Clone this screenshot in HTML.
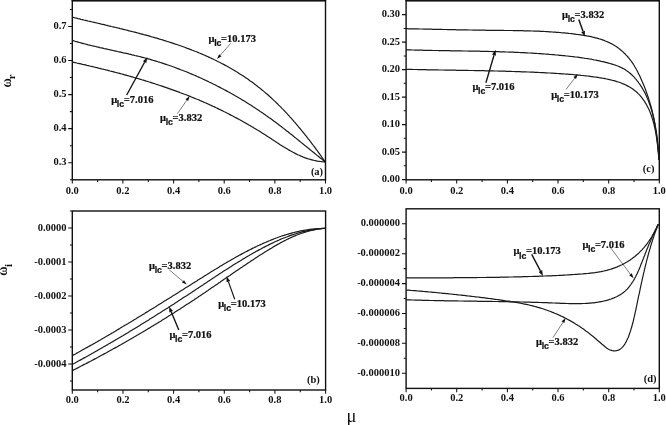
<!DOCTYPE html>
<html><head><meta charset="utf-8"><title>Figure</title>
<style>
html,body{margin:0;padding:0;background:#fff;}
body{width:666px;height:425px;overflow:hidden;}
svg{display:block;}
text{font-family:"Liberation Serif", "DejaVu Serif", serif;font-weight:bold;fill:#111;}
.tl{font-size:10.5px;}
.lb{font-size:10.5px;stroke:#111;stroke-width:0.22px;}
.sub{font-size:8.8px;font-family:"Liberation Sans","DejaVu Sans",sans-serif;}
.fr{fill:none;stroke:#111;stroke-width:1.4;}
.tk{stroke:#111;stroke-width:1.05;fill:none;}
.cv{fill:none;stroke:#1a1a1a;stroke-width:1.2;stroke-linejoin:round;}
</style></head><body>
<svg width="666" height="425" viewBox="0 0 666 425">
<rect width="666" height="425" fill="#fff"/>
<rect class="fr" x="72.3" y="0.7" width="253.2" height="179.1"/>
<rect class="fr" x="406.1" y="0.7" width="253.2" height="179.1"/>
<rect class="fr" x="72.3" y="211.0" width="253.3" height="179.0"/>
<rect class="fr" x="406.1" y="208.8" width="253.2" height="179.6"/>
<rect x="71.6" y="0" width="254.6" height="1.3" fill="#111"/><rect x="405.4" y="0" width="254.2" height="1.3" fill="#111"/>
<path class="tk" d="M72.3,179.8v3.8 M97.6,179.8v2.2 M122.9,179.8v3.8 M148.3,179.8v2.2 M173.6,179.8v3.8 M198.9,179.8v2.2 M224.2,179.8v3.8 M249.5,179.8v2.2 M274.9,179.8v3.8 M300.2,179.8v2.2 M325.5,179.8v3.8"/>
<text class="tl" transform="translate(72.3,193.9)" text-anchor="middle">0.0</text>
<text class="tl" transform="translate(122.9,193.9)" text-anchor="middle">0.2</text>
<text class="tl" transform="translate(173.6,193.9)" text-anchor="middle">0.4</text>
<text class="tl" transform="translate(224.2,193.9)" text-anchor="middle">0.6</text>
<text class="tl" transform="translate(274.9,193.9)" text-anchor="middle">0.8</text>
<text class="tl" transform="translate(325.5,193.9)" text-anchor="middle">1.0</text>
<path class="tk" d="M406.1,179.8v3.8 M431.4,179.8v2.2 M456.7,179.8v3.8 M482.1,179.8v2.2 M507.4,179.8v3.8 M532.7,179.8v2.2 M558.0,179.8v3.8 M583.3,179.8v2.2 M608.7,179.8v3.8 M634.0,179.8v2.2 M659.3,179.8v3.8"/>
<text class="tl" transform="translate(406.1,193.9)" text-anchor="middle">0.0</text>
<text class="tl" transform="translate(456.7,193.9)" text-anchor="middle">0.2</text>
<text class="tl" transform="translate(507.4,193.9)" text-anchor="middle">0.4</text>
<text class="tl" transform="translate(558.0,193.9)" text-anchor="middle">0.6</text>
<text class="tl" transform="translate(608.7,193.9)" text-anchor="middle">0.8</text>
<text class="tl" transform="translate(659.3,193.9)" text-anchor="middle">1.0</text>
<path class="tk" d="M72.3,390.0v3.8 M97.6,390.0v2.2 M123.0,390.0v3.8 M148.3,390.0v2.2 M173.6,390.0v3.8 M198.9,390.0v2.2 M224.3,390.0v3.8 M249.6,390.0v2.2 M274.9,390.0v3.8 M300.3,390.0v2.2 M325.6,390.0v3.8"/>
<text class="tl" transform="translate(72.3,403.2)" text-anchor="middle">0.0</text>
<text class="tl" transform="translate(123.0,403.2)" text-anchor="middle">0.2</text>
<text class="tl" transform="translate(173.6,403.2)" text-anchor="middle">0.4</text>
<text class="tl" transform="translate(224.3,403.2)" text-anchor="middle">0.6</text>
<text class="tl" transform="translate(274.9,403.2)" text-anchor="middle">0.8</text>
<text class="tl" transform="translate(325.6,403.2)" text-anchor="middle">1.0</text>
<path class="tk" d="M406.1,388.4v3.8 M431.4,388.4v2.2 M456.7,388.4v3.8 M482.1,388.4v2.2 M507.4,388.4v3.8 M532.7,388.4v2.2 M558.0,388.4v3.8 M583.3,388.4v2.2 M608.7,388.4v3.8 M634.0,388.4v2.2 M659.3,388.4v3.8"/>
<text class="tl" transform="translate(406.1,401.1)" text-anchor="middle">0.0</text>
<text class="tl" transform="translate(456.7,401.1)" text-anchor="middle">0.2</text>
<text class="tl" transform="translate(507.4,401.1)" text-anchor="middle">0.4</text>
<text class="tl" transform="translate(558.0,401.1)" text-anchor="middle">0.6</text>
<text class="tl" transform="translate(608.7,401.1)" text-anchor="middle">0.8</text>
<text class="tl" transform="translate(659.3,401.1)" text-anchor="middle">1.0</text>
<path class="tk" d="M72.3,26.4h-4.1 M72.3,60.5h-4.1 M72.3,94.6h-4.1 M72.3,128.6h-4.1 M72.3,162.7h-4.1 M72.3,9.4h-2.4 M72.3,43.5h-2.4 M72.3,77.5h-2.4 M72.3,111.6h-2.4 M72.3,145.7h-2.4 M72.3,179.7h-2.4"/>
<text class="tl" transform="translate(66.6,28.9)" text-anchor="end">0.7</text>
<text class="tl" transform="translate(66.6,63.0)" text-anchor="end">0.6</text>
<text class="tl" transform="translate(66.6,97.1)" text-anchor="end">0.5</text>
<text class="tl" transform="translate(66.6,131.1)" text-anchor="end">0.4</text>
<text class="tl" transform="translate(66.6,165.2)" text-anchor="end">0.3</text>
<path class="tk" d="M406.1,14.6h-4.1 M406.1,42.1h-4.1 M406.1,69.6h-4.1 M406.1,97.1h-4.1 M406.1,124.6h-4.1 M406.1,152.1h-4.1 M406.1,179.6h-4.1 M406.1,28.4h-2.4 M406.1,55.9h-2.4 M406.1,83.3h-2.4 M406.1,110.8h-2.4 M406.1,138.3h-2.4 M406.1,165.8h-2.4"/>
<text class="tl" transform="translate(400.0,17.1)" text-anchor="end">0.30</text>
<text class="tl" transform="translate(400.0,44.6)" text-anchor="end">0.25</text>
<text class="tl" transform="translate(400.0,72.1)" text-anchor="end">0.20</text>
<text class="tl" transform="translate(400.0,99.6)" text-anchor="end">0.15</text>
<text class="tl" transform="translate(400.0,127.1)" text-anchor="end">0.10</text>
<text class="tl" transform="translate(400.0,154.6)" text-anchor="end">0.05</text>
<text class="tl" transform="translate(400.0,182.1)" text-anchor="end">0.00</text>
<path class="tk" d="M72.3,228.0h-4.1 M72.3,262.0h-4.1 M72.3,296.0h-4.1 M72.3,330.0h-4.1 M72.3,364.0h-4.1 M72.3,211.0h-2.4 M72.3,245.0h-2.4 M72.3,279.0h-2.4 M72.3,313.0h-2.4 M72.3,347.0h-2.4 M72.3,381.0h-2.4"/>
<text class="tl" transform="translate(66.6,230.5)" text-anchor="end">0.0000</text>
<text class="tl" transform="translate(66.6,264.5)" text-anchor="end">-0.0001</text>
<text class="tl" transform="translate(66.6,298.5)" text-anchor="end">-0.0002</text>
<text class="tl" transform="translate(66.6,332.5)" text-anchor="end">-0.0003</text>
<text class="tl" transform="translate(66.6,366.5)" text-anchor="end">-0.0004</text>
<path class="tk" d="M406.1,223.8h-4.1 M406.1,253.7h-4.1 M406.1,283.6h-4.1 M406.1,313.4h-4.1 M406.1,343.3h-4.1 M406.1,373.2h-4.1 M406.1,238.7h-2.4 M406.1,268.6h-2.4 M406.1,298.5h-2.4 M406.1,328.4h-2.4 M406.1,358.3h-2.4"/>
<text class="tl" transform="translate(400.0,226.3)" text-anchor="end">0.000000</text>
<text class="tl" transform="translate(400.0,256.2)" text-anchor="end">-0.000002</text>
<text class="tl" transform="translate(400.0,286.1)" text-anchor="end">-0.000004</text>
<text class="tl" transform="translate(400.0,315.9)" text-anchor="end">-0.000006</text>
<text class="tl" transform="translate(400.0,345.8)" text-anchor="end">-0.000008</text>
<text class="tl" transform="translate(400.0,375.7)" text-anchor="end">-0.000010</text>
<path class="cv" d="M72.3,17.2 L73.8,17.5 L75.2,17.9 L76.6,18.2 L78.1,18.6 L79.5,18.9 L81.0,19.3 L82.4,19.6 L83.9,20.0 L85.3,20.3 L86.8,20.6 L88.2,21.0 L89.7,21.3 L91.1,21.7 L92.6,22.0 L94.0,22.3 L95.5,22.7 L96.9,23.0 L98.4,23.4 L99.9,23.7 L101.3,24.1 L102.8,24.4 L104.2,24.7 L105.7,25.1 L107.2,25.4 L108.6,25.8 L110.1,26.1 L111.5,26.5 L113.0,26.8 L114.5,27.2 L115.9,27.5 L117.4,27.9 L118.9,28.2 L120.3,28.6 L121.8,28.9 L123.3,29.3 L124.7,29.7 L126.2,30.0 L127.6,30.4 L129.1,30.8 L130.6,31.1 L132.0,31.5 L133.5,31.9 L134.9,32.2 L136.4,32.6 L137.9,33.0 L139.3,33.4 L140.8,33.8 L142.2,34.2 L143.7,34.6 L145.1,34.9 L146.6,35.3 L148.1,35.7 L149.5,36.1 L151.0,36.6 L152.4,37.0 L153.9,37.4 L155.3,37.8 L156.7,38.2 L158.2,38.6 L159.6,39.1 L161.1,39.5 L162.5,39.9 L164.0,40.4 L165.4,40.8 L166.8,41.3 L168.3,41.7 L169.7,42.2 L171.1,42.6 L172.6,43.1 L174.0,43.6 L175.4,44.1 L176.8,44.5 L178.2,45.0 L179.7,45.5 L181.1,46.0 L182.5,46.5 L183.9,47.0 L185.3,47.5 L186.7,48.1 L188.1,48.6 L189.5,49.1 L190.9,49.6 L192.3,50.2 L193.7,50.7 L195.1,51.3 L196.5,51.8 L197.9,52.4 L199.3,53.0 L200.6,53.5 L202.0,54.1 L203.4,54.7 L204.8,55.3 L206.1,55.9 L207.5,56.5 L208.8,57.1 L210.2,57.8 L211.6,58.4 L212.9,59.0 L214.3,59.7 L215.6,60.3 L216.9,61.0 L218.3,61.7 L219.6,62.3 L220.9,63.0 L222.3,63.7 L223.6,64.4 L224.9,65.1 L226.2,65.8 L227.5,66.5 L228.8,67.3 L230.1,68.0 L231.4,68.7 L232.7,69.5 L234.0,70.2 L235.3,71.0 L236.5,71.8 L237.8,72.6 L239.1,73.4 L240.3,74.2 L241.6,75.0 L242.9,75.8 L244.1,76.6 L245.3,77.4 L246.6,78.3 L247.8,79.1 L249.0,80.0 L250.2,80.9 L251.5,81.7 L252.7,82.6 L253.9,83.5 L255.1,84.4 L256.2,85.3 L257.4,86.2 L258.6,87.2 L259.8,88.1 L260.9,89.0 L262.1,90.0 L263.2,90.9 L264.4,91.9 L265.5,92.9 L266.7,93.8 L267.8,94.8 L268.9,95.8 L270.0,96.8 L271.1,97.8 L272.2,98.8 L273.3,99.9 L274.4,100.9 L275.5,101.9 L276.6,103.0 L277.7,104.0 L278.7,105.1 L279.8,106.1 L280.9,107.2 L281.9,108.3 L283.0,109.4 L284.0,110.4 L285.0,111.5 L286.1,112.6 L287.1,113.7 L288.1,114.8 L289.1,115.9 L290.1,117.1 L291.2,118.2 L292.2,119.3 L293.1,120.4 L294.1,121.6 L295.1,122.7 L296.1,123.9 L297.1,125.0 L298.0,126.2 L299.0,127.3 L300.0,128.5 L300.9,129.6 L301.9,130.8 L302.8,132.0 L303.8,133.1 L304.7,134.3 L305.7,135.5 L306.6,136.7 L307.5,137.9 L308.4,139.1 L309.4,140.2 L310.3,141.4 L311.2,142.6 L312.1,143.8 L313.0,145.0 L313.9,146.2 L314.8,147.4 L315.7,148.6 L316.6,149.8 L317.5,151.0 L318.3,152.2 L319.2,153.4 L320.1,154.6 L321.0,155.9 L321.8,157.1 L322.7,158.3 L323.6,159.5 L324.4,160.7 L325.3,161.9"/>
<path class="cv" d="M72.3,40.4 L73.7,40.8 L75.2,41.3 L76.6,41.7 L78.0,42.1 L79.5,42.5 L80.9,42.9 L82.4,43.3 L83.8,43.7 L85.3,44.0 L86.7,44.4 L88.2,44.8 L89.6,45.1 L91.1,45.5 L92.6,45.9 L94.0,46.2 L95.5,46.5 L96.9,46.9 L98.4,47.2 L99.9,47.6 L101.3,47.9 L102.8,48.2 L104.3,48.6 L105.7,48.9 L107.2,49.2 L108.6,49.5 L110.1,49.8 L111.6,50.2 L113.0,50.5 L114.5,50.8 L116.0,51.1 L117.4,51.5 L118.9,51.8 L120.4,52.1 L121.8,52.4 L123.3,52.8 L124.8,53.1 L126.2,53.4 L127.7,53.7 L129.2,54.1 L130.6,54.4 L132.1,54.8 L133.5,55.1 L135.0,55.5 L136.5,55.8 L137.9,56.2 L139.4,56.5 L140.8,56.9 L142.3,57.3 L143.7,57.7 L145.2,58.0 L146.6,58.4 L148.1,58.8 L149.5,59.2 L150.9,59.6 L152.4,60.1 L153.8,60.5 L155.2,60.9 L156.7,61.3 L158.1,61.8 L159.5,62.2 L161.0,62.7 L162.4,63.1 L163.8,63.6 L165.2,64.1 L166.6,64.6 L168.1,65.0 L169.5,65.5 L170.9,66.0 L172.3,66.5 L173.7,67.0 L175.1,67.5 L176.5,68.1 L177.9,68.6 L179.3,69.1 L180.7,69.7 L182.1,70.2 L183.5,70.7 L184.9,71.3 L186.3,71.8 L187.7,72.4 L189.1,73.0 L190.4,73.6 L191.8,74.1 L193.2,74.7 L194.6,75.3 L196.0,75.9 L197.3,76.5 L198.7,77.1 L200.1,77.7 L201.4,78.3 L202.8,79.0 L204.2,79.6 L205.5,80.2 L206.9,80.9 L208.2,81.5 L209.6,82.2 L210.9,82.8 L212.3,83.5 L213.6,84.2 L215.0,84.8 L216.3,85.5 L217.6,86.2 L219.0,86.9 L220.3,87.6 L221.6,88.3 L223.0,89.0 L224.3,89.7 L225.6,90.4 L226.9,91.1 L228.2,91.8 L229.6,92.5 L230.9,93.3 L232.2,94.0 L233.5,94.7 L234.8,95.5 L236.1,96.2 L237.4,97.0 L238.7,97.8 L240.0,98.5 L241.3,99.3 L242.5,100.1 L243.8,100.8 L245.1,101.6 L246.4,102.4 L247.7,103.2 L248.9,104.0 L250.2,104.8 L251.5,105.6 L252.7,106.4 L254.0,107.2 L255.2,108.1 L256.5,108.9 L257.7,109.7 L259.0,110.6 L260.2,111.4 L261.5,112.2 L262.7,113.1 L263.9,113.9 L265.2,114.8 L266.4,115.7 L267.6,116.5 L268.8,117.4 L270.1,118.3 L271.3,119.1 L272.5,120.0 L273.7,120.9 L274.9,121.8 L276.1,122.7 L277.3,123.6 L278.5,124.5 L279.7,125.4 L280.9,126.3 L282.1,127.2 L283.2,128.1 L284.4,129.1 L285.6,130.0 L286.8,130.9 L288.0,131.8 L289.1,132.7 L290.3,133.7 L291.5,134.6 L292.7,135.5 L293.8,136.5 L295.0,137.4 L296.2,138.4 L297.3,139.3 L298.5,140.2 L299.7,141.2 L300.8,142.1 L302.0,143.1 L303.1,144.0 L304.3,145.0 L305.5,145.9 L306.6,146.8 L307.8,147.8 L309.0,148.7 L310.1,149.7 L311.3,150.6 L312.4,151.6 L313.6,152.5 L314.8,153.5 L315.9,154.4 L317.1,155.4 L318.3,156.3 L319.4,157.2 L320.6,158.2 L321.8,159.1 L322.9,160.0 L324.1,161.0 L325.3,161.9"/>
<path class="cv" d="M72.3,62.0 L73.8,62.3 L75.2,62.6 L76.7,63.0 L78.1,63.3 L79.6,63.6 L81.0,63.9 L82.5,64.3 L83.9,64.6 L85.4,64.9 L86.9,65.3 L88.3,65.6 L89.8,66.0 L91.2,66.3 L92.7,66.7 L94.1,67.0 L95.6,67.4 L97.0,67.7 L98.5,68.1 L100.0,68.4 L101.4,68.8 L102.9,69.1 L104.3,69.5 L105.8,69.9 L107.2,70.2 L108.7,70.6 L110.1,71.0 L111.6,71.3 L113.0,71.7 L114.5,72.1 L115.9,72.5 L117.4,72.9 L118.9,73.2 L120.3,73.6 L121.8,74.0 L123.2,74.4 L124.6,74.8 L126.1,75.2 L127.5,75.6 L129.0,76.0 L130.4,76.4 L131.9,76.8 L133.3,77.2 L134.8,77.7 L136.2,78.1 L137.7,78.5 L139.1,78.9 L140.5,79.3 L142.0,79.8 L143.4,80.2 L144.8,80.6 L146.3,81.1 L147.7,81.5 L149.2,82.0 L150.6,82.4 L152.0,82.9 L153.4,83.3 L154.9,83.8 L156.3,84.3 L157.7,84.7 L159.2,85.2 L160.6,85.7 L162.0,86.1 L163.4,86.6 L164.8,87.1 L166.3,87.6 L167.7,88.1 L169.1,88.6 L170.5,89.1 L171.9,89.6 L173.3,90.1 L174.7,90.6 L176.2,91.1 L177.6,91.6 L179.0,92.1 L180.4,92.7 L181.8,93.2 L183.2,93.7 L184.6,94.3 L186.0,94.8 L187.4,95.3 L188.8,95.9 L190.2,96.4 L191.5,97.0 L192.9,97.6 L194.3,98.1 L195.7,98.7 L197.1,99.3 L198.5,99.8 L199.8,100.4 L201.2,101.0 L202.6,101.6 L204.0,102.2 L205.3,102.8 L206.7,103.4 L208.1,104.0 L209.4,104.6 L210.8,105.2 L212.1,105.9 L213.5,106.5 L214.9,107.1 L216.2,107.8 L217.6,108.4 L218.9,109.1 L220.3,109.7 L221.6,110.4 L222.9,111.0 L224.3,111.7 L225.6,112.3 L226.9,113.0 L228.3,113.7 L229.6,114.4 L230.9,115.1 L232.3,115.8 L233.6,116.5 L234.9,117.2 L236.2,117.9 L237.5,118.6 L238.9,119.3 L240.2,120.0 L241.5,120.7 L242.8,121.5 L244.1,122.2 L245.4,122.9 L246.7,123.7 L248.0,124.4 L249.3,125.2 L250.6,125.9 L251.9,126.7 L253.2,127.4 L254.4,128.2 L255.7,129.0 L257.0,129.8 L258.3,130.5 L259.6,131.3 L260.8,132.1 L262.1,132.9 L263.4,133.7 L264.6,134.5 L265.9,135.3 L267.2,136.2 L268.4,137.0 L269.7,137.8 L271.0,138.6 L272.2,139.5 L273.5,140.3 L274.7,141.1 L276.0,141.9 L277.2,142.8 L278.5,143.6 L279.7,144.4 L281.0,145.2 L282.3,146.0 L283.5,146.8 L284.8,147.6 L286.1,148.3 L287.4,149.1 L288.7,149.9 L290.0,150.6 L291.2,151.3 L292.6,152.0 L293.9,152.7 L295.2,153.4 L296.5,154.1 L297.8,154.7 L299.2,155.3 L300.5,155.9 L301.9,156.5 L303.3,157.1 L304.6,157.6 L306.0,158.1 L307.4,158.6 L308.8,159.0 L310.3,159.4 L311.7,159.8 L313.2,160.2 L314.6,160.5 L316.1,160.8 L317.6,161.1 L319.1,161.3 L320.6,161.5 L322.2,161.7 L323.7,161.8 L325.3,161.9"/>
<path class="cv" d="M406.0,28.7 L407.5,28.7 L409.0,28.8 L410.5,28.8 L411.9,28.8 L413.4,28.9 L414.9,28.9 L416.4,28.9 L417.9,28.9 L419.4,29.0 L420.9,29.0 L422.4,29.0 L423.9,29.1 L425.4,29.1 L426.9,29.1 L428.4,29.2 L429.8,29.2 L431.3,29.2 L432.8,29.3 L434.3,29.3 L435.8,29.3 L437.3,29.4 L438.8,29.4 L440.3,29.4 L441.8,29.4 L443.3,29.5 L444.8,29.5 L446.3,29.5 L447.8,29.6 L449.3,29.6 L450.8,29.6 L452.3,29.7 L453.8,29.7 L455.3,29.7 L456.8,29.8 L458.3,29.8 L459.8,29.8 L461.3,29.8 L462.8,29.9 L464.3,29.9 L465.8,29.9 L467.3,29.9 L468.8,30.0 L470.3,30.0 L471.8,30.0 L473.3,30.1 L474.8,30.1 L476.3,30.1 L477.8,30.1 L479.3,30.1 L480.8,30.2 L482.2,30.2 L483.7,30.2 L485.2,30.2 L486.7,30.3 L488.2,30.3 L489.7,30.3 L491.2,30.3 L492.7,30.3 L494.2,30.3 L495.7,30.4 L497.2,30.4 L498.7,30.4 L500.1,30.4 L501.6,30.4 L503.1,30.4 L504.6,30.5 L506.1,30.5 L507.6,30.5 L509.1,30.5 L510.6,30.5 L512.1,30.5 L513.5,30.6 L515.0,30.6 L516.5,30.6 L518.0,30.6 L519.5,30.7 L521.0,30.7 L522.5,30.7 L523.9,30.8 L525.4,30.8 L526.9,30.8 L528.4,30.9 L529.9,30.9 L531.4,31.0 L532.9,31.0 L534.4,31.1 L535.8,31.1 L537.3,31.2 L538.8,31.2 L540.3,31.3 L541.8,31.4 L543.3,31.4 L544.8,31.5 L546.3,31.6 L547.8,31.7 L549.3,31.8 L550.7,31.9 L552.2,32.0 L553.7,32.1 L555.2,32.2 L556.7,32.3 L558.2,32.4 L559.7,32.5 L561.2,32.7 L562.7,32.8 L564.2,32.9 L565.7,33.1 L567.2,33.2 L568.7,33.4 L570.2,33.5 L571.7,33.7 L573.2,33.9 L574.7,34.1 L576.2,34.3 L577.7,34.5 L579.2,34.7 L580.7,34.9 L582.2,35.1 L583.7,35.3 L585.2,35.6 L586.7,35.9 L588.2,36.1 L589.7,36.4 L591.2,36.7 L592.6,37.1 L594.1,37.4 L595.5,37.8 L597.0,38.2 L598.4,38.6 L599.8,39.0 L601.2,39.4 L602.6,39.9 L604.0,40.4 L605.4,41.0 L606.7,41.5 L608.1,42.1 L609.4,42.7 L610.7,43.4 L612.0,44.0 L613.3,44.7 L614.5,45.5 L615.8,46.3 L617.0,47.1 L618.2,47.9 L619.3,48.8 L620.5,49.7 L621.6,50.7 L622.7,51.6 L623.8,52.7 L624.9,53.7 L625.9,54.8 L626.9,55.9 L627.9,57.0 L628.9,58.1 L629.8,59.3 L630.7,60.5 L631.6,61.7 L632.4,62.9 L633.3,64.2 L634.1,65.5 L634.8,66.7 L635.6,68.0 L636.3,69.3 L637.1,70.7 L637.8,72.0 L638.4,73.4 L639.1,74.7 L639.8,76.1 L640.4,77.4 L641.0,78.8 L641.6,80.2 L642.2,81.6 L642.8,82.9 L643.4,84.3 L644.0,85.7 L644.5,87.1 L645.1,88.5 L645.6,89.9 L646.1,91.3 L646.6,92.7 L647.1,94.1 L647.6,95.6 L648.1,97.0 L648.6,98.4 L649.0,99.8 L649.4,101.2 L649.9,102.7 L650.3,104.1 L650.7,105.5 L651.1,107.0 L651.5,108.4 L651.9,109.9 L652.2,111.3 L652.6,112.8 L652.9,114.2 L653.3,115.7 L653.6,117.1 L653.9,118.6 L654.2,120.0 L654.5,121.5 L654.8,123.0 L655.1,124.4 L655.3,125.9 L655.6,127.4 L655.8,128.8 L656.1,130.3 L656.3,131.8 L656.5,133.2 L656.7,134.7 L656.9,136.2 L657.1,137.7 L657.3,139.2 L657.5,140.6 L657.7,142.1 L657.8,143.6 L658.0,145.1 L658.1,146.6 L658.2,148.1 L658.4,149.6 L658.5,151.1 L658.6,152.5 L658.7,154.0 L658.8,155.5 L658.9,157.0 L658.9,158.5 L659.0,160.0"/>
<path class="cv" d="M406.0,49.8 L407.5,49.8 L409.0,49.9 L410.5,49.9 L412.0,50.0 L413.5,50.0 L415.0,50.1 L416.5,50.1 L417.9,50.1 L419.4,50.2 L420.9,50.2 L422.4,50.2 L423.9,50.3 L425.4,50.3 L426.9,50.3 L428.4,50.4 L429.9,50.4 L431.4,50.4 L432.9,50.5 L434.4,50.5 L435.9,50.5 L437.4,50.5 L438.9,50.6 L440.4,50.6 L441.8,50.6 L443.3,50.6 L444.8,50.7 L446.3,50.7 L447.8,50.7 L449.3,50.7 L450.8,50.8 L452.3,50.8 L453.8,50.8 L455.3,50.8 L456.8,50.9 L458.3,50.9 L459.8,50.9 L461.3,50.9 L462.8,51.0 L464.3,51.0 L465.8,51.0 L467.3,51.0 L468.7,51.1 L470.2,51.1 L471.7,51.1 L473.2,51.1 L474.7,51.2 L476.2,51.2 L477.7,51.2 L479.2,51.2 L480.7,51.3 L482.2,51.3 L483.7,51.3 L485.2,51.4 L486.7,51.4 L488.2,51.4 L489.7,51.5 L491.2,51.5 L492.7,51.6 L494.1,51.6 L495.6,51.6 L497.1,51.7 L498.6,51.7 L500.1,51.8 L501.6,51.8 L503.1,51.9 L504.6,51.9 L506.1,52.0 L507.6,52.0 L509.1,52.1 L510.6,52.1 L512.1,52.2 L513.6,52.2 L515.0,52.3 L516.5,52.4 L518.0,52.4 L519.5,52.5 L521.0,52.6 L522.5,52.6 L524.0,52.7 L525.5,52.8 L527.0,52.9 L528.5,53.0 L530.0,53.0 L531.5,53.1 L532.9,53.2 L534.4,53.3 L535.9,53.4 L537.4,53.5 L538.9,53.6 L540.4,53.7 L541.9,53.8 L543.4,53.9 L544.9,54.0 L546.4,54.1 L547.8,54.2 L549.3,54.4 L550.8,54.5 L552.3,54.6 L553.8,54.7 L555.3,54.9 L556.8,55.0 L558.3,55.1 L559.7,55.3 L561.2,55.4 L562.7,55.6 L564.2,55.7 L565.7,55.9 L567.2,56.0 L568.7,56.2 L570.2,56.3 L571.6,56.5 L573.1,56.7 L574.6,56.9 L576.1,57.0 L577.6,57.2 L579.1,57.4 L580.5,57.6 L582.0,57.8 L583.5,58.0 L585.0,58.3 L586.5,58.5 L587.9,58.7 L589.4,59.0 L590.9,59.2 L592.4,59.5 L593.8,59.8 L595.3,60.0 L596.8,60.3 L598.2,60.6 L599.7,60.9 L601.2,61.3 L602.6,61.6 L604.1,61.9 L605.5,62.3 L607.0,62.7 L608.5,63.1 L609.9,63.5 L611.3,63.9 L612.8,64.3 L614.2,64.8 L615.6,65.2 L617.0,65.8 L618.4,66.3 L619.8,66.9 L621.1,67.5 L622.4,68.1 L623.7,68.8 L625.0,69.6 L626.2,70.4 L627.5,71.2 L628.6,72.1 L629.8,73.0 L630.9,74.0 L632.0,75.0 L633.1,76.1 L634.1,77.1 L635.1,78.3 L636.1,79.4 L637.0,80.6 L637.9,81.7 L638.8,83.0 L639.7,84.2 L640.5,85.4 L641.3,86.7 L642.1,87.9 L642.9,89.2 L643.6,90.5 L644.3,91.8 L645.0,93.1 L645.7,94.5 L646.3,95.8 L646.9,97.2 L647.5,98.5 L648.1,99.9 L648.6,101.3 L649.1,102.7 L649.6,104.1 L650.1,105.5 L650.6,106.9 L651.0,108.3 L651.5,109.7 L651.9,111.2 L652.3,112.6 L652.6,114.1 L653.0,115.5 L653.3,117.0 L653.7,118.5 L654.0,119.9 L654.3,121.4 L654.6,122.9 L654.9,124.4 L655.1,125.9 L655.4,127.3 L655.6,128.8 L655.8,130.3 L656.1,131.8 L656.3,133.3 L656.5,134.8 L656.7,136.3 L656.9,137.8 L657.0,139.3 L657.2,140.8 L657.4,142.3 L657.5,143.8 L657.7,145.3 L657.8,146.8 L658.0,148.3 L658.1,149.7 L658.2,151.2 L658.4,152.7 L658.5,154.2 L658.6,155.6 L658.8,157.1 L658.9,158.5 L659.0,160.0"/>
<path class="cv" d="M406.0,69.3 L407.5,69.3 L409.0,69.4 L410.5,69.4 L412.0,69.4 L413.5,69.5 L415.0,69.5 L416.5,69.5 L418.0,69.6 L419.5,69.6 L421.0,69.6 L422.5,69.7 L424.0,69.7 L425.5,69.7 L427.0,69.8 L428.5,69.8 L430.0,69.8 L431.5,69.8 L433.0,69.9 L434.5,69.9 L436.0,69.9 L437.5,69.9 L439.0,70.0 L440.5,70.0 L442.0,70.0 L443.5,70.0 L445.0,70.1 L446.5,70.1 L448.0,70.1 L449.5,70.1 L451.0,70.2 L452.5,70.2 L454.0,70.2 L455.5,70.2 L457.0,70.3 L458.5,70.3 L460.0,70.3 L461.5,70.3 L463.0,70.4 L464.5,70.4 L466.0,70.4 L467.5,70.4 L469.0,70.5 L470.5,70.5 L472.0,70.5 L473.5,70.5 L475.0,70.6 L476.5,70.6 L478.0,70.6 L479.5,70.7 L481.0,70.7 L482.5,70.7 L484.0,70.7 L485.5,70.8 L487.0,70.8 L488.5,70.8 L490.0,70.9 L491.5,70.9 L493.0,70.9 L494.5,71.0 L496.0,71.0 L497.5,71.0 L499.0,71.1 L500.5,71.1 L502.0,71.2 L503.5,71.2 L505.0,71.2 L506.5,71.3 L508.0,71.3 L509.5,71.4 L511.0,71.4 L512.5,71.5 L514.0,71.5 L515.5,71.6 L517.0,71.6 L518.5,71.7 L520.0,71.7 L521.5,71.8 L523.0,71.8 L524.5,71.9 L526.0,71.9 L527.5,72.0 L529.0,72.0 L530.5,72.1 L532.0,72.2 L533.5,72.2 L535.0,72.3 L536.4,72.4 L537.9,72.4 L539.4,72.5 L540.9,72.6 L542.4,72.7 L543.9,72.7 L545.4,72.8 L546.9,72.9 L548.4,73.0 L549.9,73.0 L551.4,73.1 L552.9,73.2 L554.4,73.3 L555.9,73.4 L557.4,73.5 L558.9,73.6 L560.3,73.7 L561.8,73.8 L563.3,73.9 L564.8,74.0 L566.3,74.1 L567.8,74.2 L569.3,74.3 L570.8,74.4 L572.3,74.5 L573.8,74.7 L575.2,74.8 L576.7,74.9 L578.2,75.1 L579.7,75.2 L581.2,75.4 L582.7,75.5 L584.2,75.7 L585.7,75.8 L587.2,76.0 L588.7,76.2 L590.2,76.4 L591.7,76.6 L593.2,76.8 L594.7,77.0 L596.2,77.2 L597.7,77.4 L599.2,77.7 L600.7,77.9 L602.2,78.2 L603.7,78.4 L605.2,78.7 L606.7,79.0 L608.2,79.3 L609.6,79.6 L611.1,80.0 L612.6,80.4 L614.1,80.7 L615.5,81.1 L616.9,81.6 L618.4,82.0 L619.8,82.5 L621.2,83.0 L622.6,83.6 L623.9,84.1 L625.3,84.7 L626.6,85.4 L627.9,86.1 L629.2,86.8 L630.4,87.5 L631.6,88.3 L632.8,89.1 L634.0,90.0 L635.2,90.9 L636.3,91.8 L637.4,92.8 L638.4,93.9 L639.5,94.9 L640.5,96.1 L641.4,97.2 L642.3,98.4 L643.2,99.6 L644.1,100.8 L644.9,102.1 L645.7,103.4 L646.5,104.7 L647.2,106.0 L647.9,107.4 L648.6,108.8 L649.2,110.1 L649.8,111.5 L650.4,112.9 L650.9,114.3 L651.4,115.8 L651.9,117.2 L652.3,118.6 L652.8,120.1 L653.2,121.5 L653.6,123.0 L654.0,124.5 L654.3,125.9 L654.6,127.4 L655.0,128.9 L655.3,130.3 L655.6,131.8 L655.8,133.3 L656.1,134.7 L656.3,136.2 L656.6,137.7 L656.8,139.2 L657.0,140.7 L657.2,142.1 L657.4,143.6 L657.6,145.1 L657.8,146.6 L657.9,148.1 L658.1,149.6 L658.2,151.0 L658.4,152.5 L658.5,154.0 L658.6,155.5 L658.8,157.0 L658.9,158.5 L659.0,160.0"/>
<path class="cv" d="M72.3,355.6 L73.6,354.9 L74.9,354.2 L76.3,353.4 L77.6,352.7 L78.9,352.0 L80.2,351.3 L81.5,350.5 L82.8,349.8 L84.1,349.1 L85.4,348.3 L86.7,347.6 L88.0,346.9 L89.4,346.1 L90.7,345.4 L92.0,344.7 L93.3,343.9 L94.6,343.2 L95.9,342.4 L97.2,341.7 L98.5,340.9 L99.8,340.2 L101.0,339.5 L102.3,338.7 L103.6,338.0 L104.9,337.2 L106.2,336.5 L107.5,335.7 L108.8,334.9 L110.1,334.2 L111.4,333.4 L112.7,332.7 L114.0,331.9 L115.2,331.2 L116.5,330.4 L117.8,329.6 L119.1,328.9 L120.4,328.1 L121.7,327.3 L122.9,326.6 L124.2,325.8 L125.5,325.0 L126.8,324.3 L128.1,323.5 L129.3,322.7 L130.6,322.0 L131.9,321.2 L133.2,320.4 L134.5,319.6 L135.7,318.9 L137.0,318.1 L138.3,317.3 L139.6,316.5 L140.8,315.8 L142.1,315.0 L143.4,314.2 L144.7,313.4 L145.9,312.6 L147.2,311.9 L148.5,311.1 L149.7,310.3 L151.0,309.5 L152.3,308.7 L153.6,307.9 L154.8,307.2 L156.1,306.4 L157.4,305.6 L158.6,304.8 L159.9,304.0 L161.2,303.2 L162.5,302.4 L163.7,301.6 L165.0,300.8 L166.3,300.1 L167.5,299.3 L168.8,298.5 L170.1,297.7 L171.3,296.9 L172.6,296.1 L173.9,295.3 L175.2,294.5 L176.4,293.7 L177.7,292.9 L179.0,292.1 L180.2,291.3 L181.5,290.5 L182.8,289.7 L184.0,288.9 L185.3,288.1 L186.6,287.3 L187.9,286.5 L189.1,285.7 L190.4,284.9 L191.7,284.1 L192.9,283.3 L194.2,282.5 L195.5,281.7 L196.8,280.9 L198.0,280.1 L199.3,279.3 L200.6,278.5 L201.9,277.7 L203.1,276.9 L204.4,276.1 L205.7,275.3 L207.0,274.5 L208.2,273.7 L209.5,272.9 L210.8,272.1 L212.1,271.3 L213.4,270.5 L214.6,269.7 L215.9,269.0 L217.2,268.2 L218.5,267.4 L219.8,266.6 L221.1,265.8 L222.4,265.1 L223.6,264.3 L224.9,263.5 L226.2,262.8 L227.5,262.0 L228.8,261.2 L230.1,260.5 L231.4,259.7 L232.7,259.0 L234.0,258.3 L235.3,257.5 L236.6,256.8 L238.0,256.1 L239.3,255.3 L240.6,254.6 L241.9,253.9 L243.2,253.2 L244.5,252.5 L245.9,251.8 L247.2,251.1 L248.5,250.4 L249.8,249.8 L251.2,249.1 L252.5,248.4 L253.8,247.8 L255.2,247.1 L256.5,246.5 L257.8,245.8 L259.2,245.2 L260.5,244.6 L261.9,244.0 L263.2,243.4 L264.6,242.8 L266.0,242.2 L267.3,241.6 L268.7,241.0 L270.1,240.5 L271.4,239.9 L272.8,239.4 L274.2,238.8 L275.6,238.3 L277.0,237.8 L278.3,237.3 L279.7,236.8 L281.1,236.3 L282.5,235.8 L283.9,235.4 L285.3,234.9 L286.8,234.5 L288.2,234.1 L289.6,233.7 L291.0,233.3 L292.4,232.9 L293.9,232.5 L295.3,232.2 L296.7,231.8 L298.2,231.5 L299.6,231.2 L301.1,230.9 L302.6,230.6 L304.0,230.3 L305.5,230.1 L307.0,229.9 L308.4,229.6 L309.9,229.4 L311.4,229.2 L312.9,229.1 L314.4,228.9 L315.9,228.8 L317.4,228.7 L318.9,228.6 L320.4,228.5 L321.9,228.4 L323.5,228.4 L325.0,228.4"/>
<path class="cv" d="M72.3,364.4 L73.6,363.7 L75.0,363.0 L76.3,362.3 L77.6,361.5 L78.9,360.8 L80.2,360.1 L81.6,359.4 L82.9,358.6 L84.2,357.9 L85.5,357.2 L86.8,356.5 L88.1,355.7 L89.4,355.0 L90.8,354.3 L92.1,353.5 L93.4,352.8 L94.7,352.0 L96.0,351.3 L97.3,350.6 L98.6,349.8 L99.9,349.1 L101.2,348.3 L102.5,347.6 L103.8,346.8 L105.1,346.1 L106.4,345.3 L107.7,344.6 L109.0,343.8 L110.3,343.1 L111.6,342.3 L112.9,341.6 L114.1,340.8 L115.4,340.1 L116.7,339.3 L118.0,338.5 L119.3,337.8 L120.6,337.0 L121.9,336.2 L123.2,335.5 L124.4,334.7 L125.7,333.9 L127.0,333.2 L128.3,332.4 L129.6,331.6 L130.8,330.8 L132.1,330.1 L133.4,329.3 L134.7,328.5 L136.0,327.7 L137.2,327.0 L138.5,326.2 L139.8,325.4 L141.0,324.6 L142.3,323.8 L143.6,323.0 L144.9,322.3 L146.1,321.5 L147.4,320.7 L148.7,319.9 L149.9,319.1 L151.2,318.3 L152.5,317.5 L153.8,316.7 L155.0,315.9 L156.3,315.1 L157.5,314.3 L158.8,313.5 L160.1,312.7 L161.3,311.9 L162.6,311.1 L163.9,310.3 L165.1,309.5 L166.4,308.7 L167.7,307.9 L168.9,307.1 L170.2,306.3 L171.4,305.5 L172.7,304.7 L174.0,303.9 L175.2,303.0 L176.5,302.2 L177.7,301.4 L179.0,300.6 L180.3,299.8 L181.5,299.0 L182.8,298.1 L184.0,297.3 L185.3,296.5 L186.6,295.7 L187.8,294.9 L189.1,294.0 L190.3,293.2 L191.6,292.4 L192.8,291.6 L194.1,290.7 L195.3,289.9 L196.6,289.1 L197.9,288.2 L199.1,287.4 L200.4,286.6 L201.6,285.7 L202.9,284.9 L204.1,284.1 L205.4,283.2 L206.7,282.4 L207.9,281.6 L209.2,280.7 L210.4,279.9 L211.7,279.1 L212.9,278.2 L214.2,277.4 L215.5,276.6 L216.7,275.8 L218.0,274.9 L219.2,274.1 L220.5,273.3 L221.8,272.5 L223.0,271.6 L224.3,270.8 L225.6,270.0 L226.8,269.2 L228.1,268.4 L229.4,267.6 L230.7,266.8 L231.9,265.9 L233.2,265.1 L234.5,264.3 L235.8,263.5 L237.0,262.8 L238.3,262.0 L239.6,261.2 L240.9,260.4 L242.2,259.6 L243.4,258.8 L244.7,258.1 L246.0,257.3 L247.3,256.5 L248.6,255.8 L249.9,255.0 L251.2,254.3 L252.5,253.5 L253.8,252.8 L255.1,252.1 L256.4,251.3 L257.7,250.6 L259.0,249.9 L260.4,249.2 L261.7,248.5 L263.0,247.8 L264.3,247.1 L265.6,246.4 L267.0,245.7 L268.3,245.1 L269.6,244.4 L271.0,243.7 L272.3,243.1 L273.7,242.5 L275.0,241.8 L276.3,241.2 L277.7,240.6 L279.1,240.0 L280.4,239.4 L281.8,238.8 L283.2,238.3 L284.5,237.7 L285.9,237.2 L287.3,236.7 L288.7,236.1 L290.1,235.6 L291.5,235.1 L292.9,234.7 L294.3,234.2 L295.7,233.8 L297.1,233.3 L298.5,232.9 L299.9,232.5 L301.4,232.1 L302.8,231.7 L304.2,231.4 L305.7,231.1 L307.1,230.7 L308.6,230.4 L310.0,230.1 L311.5,229.9 L313.0,229.6 L314.5,229.4 L315.9,229.2 L317.4,229.0 L318.9,228.8 L320.4,228.7 L322.0,228.5 L323.5,228.4 L325.0,228.3"/>
<path class="cv" d="M72.3,370.6 L73.6,369.9 L75.0,369.2 L76.3,368.6 L77.7,367.9 L79.0,367.2 L80.3,366.5 L81.7,365.8 L83.0,365.1 L84.3,364.4 L85.7,363.8 L87.0,363.1 L88.3,362.4 L89.6,361.7 L91.0,361.0 L92.3,360.3 L93.6,359.6 L94.9,358.9 L96.3,358.2 L97.6,357.5 L98.9,356.7 L100.2,356.0 L101.5,355.3 L102.9,354.6 L104.2,353.9 L105.5,353.2 L106.8,352.5 L108.1,351.7 L109.4,351.0 L110.7,350.3 L112.0,349.6 L113.4,348.8 L114.7,348.1 L116.0,347.4 L117.3,346.7 L118.6,345.9 L119.9,345.2 L121.2,344.5 L122.5,343.7 L123.8,343.0 L125.1,342.2 L126.4,341.5 L127.7,340.8 L129.0,340.0 L130.3,339.3 L131.6,338.5 L132.9,337.8 L134.2,337.0 L135.4,336.3 L136.7,335.5 L138.0,334.8 L139.3,334.0 L140.6,333.2 L141.9,332.5 L143.2,331.7 L144.5,331.0 L145.7,330.2 L147.0,329.4 L148.3,328.6 L149.6,327.9 L150.9,327.1 L152.1,326.3 L153.4,325.6 L154.7,324.8 L156.0,324.0 L157.3,323.2 L158.5,322.4 L159.8,321.7 L161.1,320.9 L162.3,320.1 L163.6,319.3 L164.9,318.5 L166.2,317.7 L167.4,316.9 L168.7,316.1 L170.0,315.3 L171.2,314.5 L172.5,313.7 L173.8,312.9 L175.0,312.1 L176.3,311.3 L177.5,310.5 L178.8,309.7 L180.1,308.9 L181.3,308.1 L182.6,307.3 L183.8,306.5 L185.1,305.6 L186.3,304.8 L187.6,304.0 L188.9,303.2 L190.1,302.4 L191.4,301.5 L192.6,300.7 L193.9,299.9 L195.1,299.0 L196.4,298.2 L197.6,297.4 L198.8,296.5 L200.1,295.7 L201.3,294.9 L202.6,294.0 L203.8,293.2 L205.1,292.4 L206.3,291.5 L207.6,290.7 L208.8,289.8 L210.0,289.0 L211.3,288.1 L212.5,287.3 L213.8,286.4 L215.0,285.6 L216.2,284.7 L217.5,283.9 L218.7,283.0 L220.0,282.2 L221.2,281.3 L222.4,280.5 L223.7,279.6 L224.9,278.8 L226.1,277.9 L227.4,277.1 L228.6,276.2 L229.9,275.4 L231.1,274.5 L232.3,273.7 L233.6,272.8 L234.8,272.0 L236.1,271.1 L237.3,270.3 L238.6,269.4 L239.8,268.6 L241.0,267.7 L242.3,266.9 L243.5,266.1 L244.8,265.2 L246.0,264.4 L247.3,263.5 L248.5,262.7 L249.8,261.9 L251.0,261.1 L252.3,260.2 L253.5,259.4 L254.8,258.6 L256.0,257.8 L257.3,256.9 L258.6,256.1 L259.8,255.3 L261.1,254.5 L262.4,253.7 L263.6,252.9 L264.9,252.1 L266.2,251.3 L267.4,250.5 L268.7,249.7 L270.0,248.9 L271.3,248.2 L272.5,247.4 L273.8,246.6 L275.1,245.9 L276.4,245.1 L277.7,244.4 L279.0,243.7 L280.3,242.9 L281.6,242.2 L282.9,241.5 L284.2,240.9 L285.5,240.2 L286.9,239.5 L288.2,238.9 L289.5,238.2 L290.9,237.6 L292.2,237.0 L293.6,236.4 L294.9,235.9 L296.3,235.3 L297.6,234.8 L299.0,234.2 L300.4,233.7 L301.8,233.2 L303.2,232.8 L304.6,232.3 L306.0,231.9 L307.4,231.5 L308.8,231.1 L310.2,230.7 L311.7,230.4 L313.1,230.1 L314.6,229.8 L316.0,229.5 L317.5,229.2 L319.0,229.0 L320.5,228.8 L322.0,228.6 L323.5,228.5 L325.0,228.3"/>
<path class="cv" d="M406.0,277.9 L407.5,277.9 L409.0,277.9 L410.5,277.9 L412.0,277.9 L413.5,277.9 L415.0,277.9 L416.5,277.9 L418.0,277.9 L419.5,277.9 L421.0,277.9 L422.5,277.9 L424.0,277.9 L425.5,277.9 L427.0,277.9 L428.5,277.9 L430.0,277.8 L431.5,277.8 L433.0,277.8 L434.5,277.8 L436.0,277.8 L437.5,277.8 L439.0,277.8 L440.5,277.8 L442.0,277.8 L443.5,277.8 L445.0,277.8 L446.5,277.8 L448.0,277.8 L449.5,277.8 L451.0,277.8 L452.5,277.8 L454.0,277.7 L455.5,277.7 L457.0,277.7 L458.5,277.7 L460.0,277.7 L461.5,277.7 L463.0,277.7 L464.5,277.7 L466.0,277.7 L467.5,277.7 L469.0,277.6 L470.5,277.6 L472.0,277.6 L473.5,277.6 L475.0,277.6 L476.5,277.6 L478.0,277.5 L479.5,277.5 L481.0,277.5 L482.5,277.5 L484.0,277.5 L485.5,277.5 L487.0,277.4 L488.5,277.4 L490.0,277.4 L491.5,277.4 L493.0,277.4 L494.5,277.3 L496.0,277.3 L497.5,277.3 L499.0,277.3 L500.5,277.2 L502.0,277.2 L503.5,277.2 L505.0,277.1 L506.5,277.1 L508.0,277.1 L509.5,277.0 L511.0,277.0 L512.5,277.0 L514.0,276.9 L515.5,276.9 L517.0,276.9 L518.5,276.8 L520.0,276.8 L521.5,276.8 L523.0,276.7 L524.5,276.7 L526.0,276.6 L527.5,276.6 L529.0,276.5 L530.5,276.5 L532.0,276.5 L533.5,276.4 L535.0,276.4 L536.5,276.3 L538.0,276.3 L539.5,276.2 L541.0,276.2 L542.5,276.1 L543.9,276.0 L545.4,276.0 L546.9,275.9 L548.4,275.9 L549.9,275.8 L551.4,275.8 L552.9,275.7 L554.4,275.6 L555.9,275.6 L557.4,275.5 L558.9,275.4 L560.4,275.3 L561.9,275.3 L563.4,275.2 L564.9,275.1 L566.4,275.0 L567.9,274.9 L569.4,274.8 L570.9,274.7 L572.4,274.6 L573.9,274.5 L575.4,274.4 L576.9,274.3 L578.4,274.2 L579.9,274.1 L581.4,274.0 L582.9,273.9 L584.4,273.7 L585.9,273.6 L587.4,273.5 L589.0,273.3 L590.5,273.1 L592.0,272.9 L593.5,272.8 L595.0,272.6 L596.5,272.3 L597.9,272.1 L599.4,271.8 L600.9,271.6 L602.4,271.3 L603.8,271.0 L605.3,270.6 L606.8,270.3 L608.2,269.9 L609.6,269.5 L611.1,269.1 L612.5,268.6 L613.9,268.1 L615.3,267.6 L616.7,267.1 L618.0,266.5 L619.4,265.9 L620.7,265.3 L622.1,264.7 L623.4,264.0 L624.7,263.3 L626.0,262.5 L627.3,261.8 L628.5,261.0 L629.8,260.2 L631.0,259.3 L632.2,258.5 L633.4,257.6 L634.6,256.7 L635.7,255.7 L636.8,254.8 L638.0,253.8 L639.0,252.8 L640.1,251.7 L641.2,250.6 L642.2,249.6 L643.2,248.4 L644.2,247.3 L645.1,246.1 L646.1,245.0 L647.0,243.8 L647.9,242.5 L648.8,241.3 L649.6,240.1 L650.5,238.8 L651.3,237.5 L652.1,236.2 L652.8,234.9 L653.6,233.6 L654.3,232.3 L655.0,230.9 L655.7,229.6 L656.4,228.3 L657.0,226.9 L657.7,225.6 L658.3,224.2"/>
<path class="cv" d="M406.0,299.8 L407.5,299.8 L409.0,299.9 L410.5,299.9 L412.0,300.0 L413.5,300.0 L415.0,300.1 L416.5,300.1 L418.0,300.2 L419.5,300.2 L421.0,300.2 L422.5,300.3 L424.0,300.3 L425.5,300.4 L427.0,300.4 L428.5,300.4 L430.0,300.5 L431.5,300.5 L433.0,300.5 L434.5,300.6 L436.0,300.6 L437.5,300.6 L439.0,300.6 L440.5,300.7 L442.0,300.7 L443.5,300.7 L445.0,300.8 L446.5,300.8 L448.0,300.8 L449.5,300.8 L451.0,300.9 L452.5,300.9 L454.0,300.9 L455.5,300.9 L457.0,300.9 L458.5,301.0 L460.0,301.0 L461.5,301.0 L463.0,301.0 L464.5,301.1 L466.0,301.1 L467.5,301.1 L469.0,301.1 L470.5,301.1 L472.0,301.2 L473.5,301.2 L475.0,301.2 L476.5,301.2 L478.0,301.3 L479.5,301.3 L481.0,301.3 L482.5,301.3 L484.0,301.3 L485.5,301.4 L487.0,301.4 L488.5,301.4 L490.0,301.4 L491.5,301.4 L493.0,301.5 L494.5,301.5 L496.0,301.5 L497.5,301.5 L499.0,301.6 L500.5,301.6 L502.0,301.6 L503.5,301.6 L505.0,301.7 L506.5,301.7 L508.0,301.7 L509.5,301.8 L511.0,301.8 L512.5,301.8 L514.0,301.8 L515.5,301.9 L517.0,301.9 L518.5,301.9 L520.0,302.0 L521.5,302.0 L523.0,302.0 L524.5,302.1 L526.0,302.1 L527.5,302.2 L529.0,302.2 L530.5,302.2 L532.0,302.3 L533.5,302.3 L535.0,302.4 L536.5,302.4 L538.0,302.4 L539.5,302.5 L541.0,302.5 L542.5,302.6 L544.0,302.6 L545.5,302.7 L547.0,302.7 L548.5,302.8 L550.0,302.9 L551.5,302.9 L553.0,303.0 L554.5,303.0 L556.0,303.1 L557.5,303.2 L558.9,303.2 L560.4,303.3 L561.9,303.3 L563.4,303.4 L564.9,303.4 L566.4,303.5 L567.9,303.5 L569.4,303.6 L570.9,303.6 L572.4,303.6 L573.9,303.6 L575.4,303.7 L576.9,303.7 L578.4,303.6 L579.9,303.6 L581.4,303.6 L582.9,303.5 L584.4,303.5 L585.9,303.4 L587.5,303.3 L589.0,303.2 L590.5,303.1 L592.0,302.9 L593.5,302.8 L595.0,302.6 L596.5,302.4 L598.0,302.2 L599.5,301.9 L601.0,301.6 L602.5,301.4 L604.0,301.0 L605.5,300.7 L606.9,300.3 L608.4,299.9 L609.8,299.4 L611.2,299.0 L612.6,298.4 L614.0,297.9 L615.3,297.3 L616.6,296.7 L617.9,296.0 L619.2,295.3 L620.5,294.6 L621.7,293.8 L622.8,292.9 L624.0,292.0 L625.1,291.1 L626.1,290.1 L627.2,289.1 L628.2,288.0 L629.1,286.8 L630.0,285.7 L630.9,284.5 L631.8,283.2 L632.6,282.0 L633.4,280.7 L634.2,279.4 L634.9,278.0 L635.6,276.7 L636.3,275.3 L637.0,273.9 L637.6,272.5 L638.3,271.1 L638.9,269.8 L639.5,268.3 L640.1,266.9 L640.6,265.5 L641.2,264.1 L641.7,262.7 L642.3,261.3 L642.8,259.9 L643.4,258.5 L643.9,257.1 L644.5,255.7 L645.0,254.3 L645.5,252.9 L646.1,251.5 L646.6,250.1 L647.2,248.7 L647.8,247.3 L648.3,246.0 L648.9,244.6 L649.5,243.2 L650.1,241.9 L650.7,240.5 L651.2,239.1 L651.8,237.8 L652.5,236.4 L653.1,235.1 L653.7,233.7 L654.3,232.3 L655.0,231.0 L655.6,229.6 L656.3,228.3 L656.9,226.9 L657.6,225.6 L658.3,224.2"/>
<path class="cv" d="M406.0,290.0 L407.5,290.1 L409.0,290.2 L410.5,290.4 L412.0,290.5 L413.5,290.6 L414.9,290.7 L416.4,290.8 L417.9,291.0 L419.4,291.1 L420.9,291.2 L422.4,291.3 L423.9,291.5 L425.4,291.6 L426.9,291.7 L428.3,291.9 L429.8,292.0 L431.3,292.1 L432.8,292.3 L434.3,292.4 L435.8,292.5 L437.3,292.7 L438.8,292.8 L440.3,293.0 L441.7,293.1 L443.2,293.3 L444.7,293.4 L446.2,293.6 L447.7,293.7 L449.2,293.9 L450.7,294.0 L452.2,294.2 L453.7,294.3 L455.1,294.5 L456.6,294.6 L458.1,294.8 L459.6,295.0 L461.1,295.1 L462.6,295.3 L464.1,295.4 L465.5,295.6 L467.0,295.8 L468.5,296.0 L470.0,296.1 L471.5,296.3 L473.0,296.5 L474.5,296.7 L475.9,296.8 L477.4,297.0 L478.9,297.2 L480.4,297.4 L481.9,297.6 L483.4,297.7 L484.9,297.9 L486.3,298.1 L487.8,298.3 L489.3,298.5 L490.8,298.7 L492.3,298.9 L493.7,299.1 L495.2,299.3 L496.7,299.5 L498.2,299.7 L499.7,299.9 L501.2,300.1 L502.6,300.3 L504.1,300.5 L505.6,300.8 L507.1,301.0 L508.6,301.2 L510.0,301.4 L511.5,301.7 L513.0,301.9 L514.5,302.2 L515.9,302.4 L517.4,302.7 L518.9,302.9 L520.3,303.2 L521.8,303.5 L523.3,303.8 L524.7,304.1 L526.2,304.4 L527.6,304.7 L529.1,305.0 L530.5,305.4 L532.0,305.7 L533.4,306.1 L534.9,306.5 L536.3,306.9 L537.8,307.3 L539.2,307.7 L540.6,308.1 L542.1,308.5 L543.5,309.0 L544.9,309.5 L546.3,310.0 L547.7,310.5 L549.2,311.0 L550.6,311.5 L552.0,312.1 L553.4,312.6 L554.7,313.2 L556.1,313.8 L557.5,314.4 L558.9,315.0 L560.2,315.6 L561.6,316.3 L563.0,316.9 L564.3,317.6 L565.6,318.3 L567.0,319.0 L568.3,319.7 L569.6,320.4 L570.9,321.1 L572.2,321.9 L573.5,322.6 L574.8,323.4 L576.0,324.2 L577.3,325.0 L578.5,325.8 L579.8,326.6 L581.0,327.4 L582.2,328.3 L583.4,329.1 L584.6,330.0 L585.8,330.9 L587.0,331.7 L588.2,332.6 L589.3,333.5 L590.5,334.5 L591.7,335.4 L592.8,336.3 L594.0,337.3 L595.1,338.3 L596.3,339.2 L597.4,340.2 L598.6,341.2 L599.8,342.2 L600.9,343.2 L602.1,344.3 L603.3,345.3 L604.5,346.3 L605.7,347.3 L606.9,348.2 L608.2,349.0 L609.5,349.7 L610.8,350.2 L612.2,350.6 L613.6,350.8 L614.9,350.9 L616.3,350.7 L617.6,350.4 L618.9,349.9 L620.1,349.3 L621.2,348.4 L622.2,347.4 L623.2,346.3 L624.1,345.1 L625.0,343.8 L625.8,342.4 L626.5,341.0 L627.2,339.5 L627.9,338.1 L628.5,336.7 L629.0,335.3 L629.5,333.8 L630.0,332.4 L630.5,331.0 L630.9,329.6 L631.3,328.2 L631.8,326.8 L632.1,325.4 L632.5,324.0 L632.9,322.5 L633.3,321.1 L633.6,319.6 L633.9,318.2 L634.3,316.7 L634.6,315.3 L634.9,313.8 L635.2,312.3 L635.6,310.9 L635.9,309.4 L636.2,308.0 L636.5,306.5 L636.8,305.0 L637.1,303.6 L637.4,302.1 L637.7,300.6 L638.0,299.2 L638.3,297.7 L638.6,296.2 L638.9,294.8 L639.3,293.3 L639.6,291.8 L639.9,290.4 L640.2,288.9 L640.5,287.4 L640.8,286.0 L641.1,284.5 L641.4,283.1 L641.8,281.6 L642.1,280.1 L642.4,278.7 L642.7,277.2 L643.1,275.8 L643.4,274.3 L643.7,272.8 L644.1,271.4 L644.4,269.9 L644.8,268.5 L645.1,267.0 L645.5,265.6 L645.8,264.1 L646.2,262.7 L646.5,261.2 L646.9,259.8 L647.3,258.3 L647.7,256.9 L648.1,255.5 L648.4,254.0 L648.8,252.6 L649.3,251.1 L649.7,249.7 L650.1,248.3 L650.5,246.8 L650.9,245.4 L651.4,244.0 L651.8,242.5 L652.3,241.1 L652.7,239.7 L653.2,238.3 L653.7,236.9 L654.1,235.4 L654.6,234.0 L655.1,232.6 L655.6,231.2 L656.2,229.8 L656.7,228.4 L657.2,227.0 L657.8,225.6 L658.3,224.2"/>
<text class="lb" transform="translate(208.6,41.5)" text-anchor="start">μ<tspan class="sub" dx="-0.4" dy="4.3">lc</tspan><tspan dx="-0.4" dy="-4.3">=10.173</tspan></text>
<path d="M230.7,43.4L220.3,55.2" stroke="#111" stroke-width="0.55" fill="none"/>
<path d="M217.0,59.0L219.1,54.2L221.5,56.3Z" fill="#111"/>
<text class="lb" transform="translate(111.3,103.0)" text-anchor="start">μ<tspan class="sub" dx="-0.4" dy="4.3">lc</tspan><tspan dx="-0.4" dy="-4.3">=7.016</tspan></text>
<path d="M126.7,95.0L144.6,62.2" stroke="#111" stroke-width="1.35" fill="none"/>
<path d="M147.3,57.3L146.3,63.1L142.9,61.3Z" fill="#111"/>
<text class="lb" transform="translate(160.1,120.5)" text-anchor="start">μ<tspan class="sub" dx="-0.4" dy="4.3">lc</tspan><tspan dx="-0.4" dy="-4.3">=3.832</tspan></text>
<path d="M177.4,113.7L186.8,100.2" stroke="#111" stroke-width="0.55" fill="none"/>
<path d="M189.7,96.1L188.1,101.1L185.5,99.3Z" fill="#111"/>
<text class="lb" transform="translate(562.1,18.0)" text-anchor="start">μ<tspan class="sub" dx="-0.4" dy="4.3">lc</tspan><tspan dx="-0.4" dy="-4.3">=3.832</tspan></text>
<path d="M578.8,19.5L583.0,31.3" stroke="#111" stroke-width="1.45" fill="none"/>
<path d="M584.9,36.6L581.2,32.0L584.9,30.7Z" fill="#111"/>
<text class="lb" transform="translate(472.5,89.5)" text-anchor="start">μ<tspan class="sub" dx="-0.4" dy="4.3">lc</tspan><tspan dx="-0.4" dy="-4.3">=7.016</tspan></text>
<path d="M485.9,82.7L494.0,55.2" stroke="#111" stroke-width="1.35" fill="none"/>
<path d="M495.6,49.8L495.9,55.7L492.1,54.6Z" fill="#111"/>
<text class="lb" transform="translate(551.3,98.1)" text-anchor="start">μ<tspan class="sub" dx="-0.4" dy="4.3">lc</tspan><tspan dx="-0.4" dy="-4.3">=10.173</tspan></text>
<path d="M566.0,89.5L574.8,78.0" stroke="#111" stroke-width="0.55" fill="none"/>
<path d="M577.8,74.0L576.0,78.9L573.5,77.0Z" fill="#111"/>
<text class="lb" transform="translate(149.1,268.9)" text-anchor="start">μ<tspan class="sub" dx="-0.4" dy="4.3">lc</tspan><tspan dx="-0.4" dy="-4.3">=3.832</tspan></text>
<path d="M169.3,269.9L183.0,281.4" stroke="#111" stroke-width="0.55" fill="none"/>
<path d="M186.8,284.6L181.9,282.6L184.0,280.2Z" fill="#111"/>
<text class="lb" transform="translate(218.3,307.0)" text-anchor="start">μ<tspan class="sub" dx="-0.4" dy="4.3">lc</tspan><tspan dx="-0.4" dy="-4.3">=10.173</tspan></text>
<path d="M234.7,299.2L228.4,281.6" stroke="#111" stroke-width="1.15" fill="none"/>
<path d="M226.5,276.3L230.2,280.9L226.6,282.2Z" fill="#111"/>
<text class="lb" transform="translate(169.5,337.8)" text-anchor="start">μ<tspan class="sub" dx="-0.4" dy="4.3">lc</tspan><tspan dx="-0.4" dy="-4.3">=7.016</tspan></text>
<path d="M178.8,330.0L171.2,311.8" stroke="#111" stroke-width="1.35" fill="none"/>
<path d="M169.0,306.6L173.0,311.0L169.4,312.5Z" fill="#111"/>
<text class="lb" transform="translate(513.5,254.4)" text-anchor="start">μ<tspan class="sub" dx="-0.4" dy="4.3">lc</tspan><tspan dx="-0.4" dy="-4.3">=10.173</tspan></text>
<path d="M531.7,254.4L540.4,270.9" stroke="#111" stroke-width="1.35" fill="none"/>
<path d="M543.0,275.9L538.7,271.9L542.1,270.0Z" fill="#111"/>
<text class="lb" transform="translate(582.4,248.0)" text-anchor="start">μ<tspan class="sub" dx="-0.4" dy="4.3">lc</tspan><tspan dx="-0.4" dy="-4.3">=7.016</tspan></text>
<path d="M610.0,247.0L630.5,274.3" stroke="#111" stroke-width="0.55" fill="none"/>
<path d="M633.5,278.3L629.2,275.3L631.8,273.3Z" fill="#111"/>
<text class="lb" transform="translate(536.1,344.8)" text-anchor="start">μ<tspan class="sub" dx="-0.4" dy="4.3">lc</tspan><tspan dx="-0.4" dy="-4.3">=3.832</tspan></text>
<path d="M553.0,337.6L563.0,322.2" stroke="#111" stroke-width="0.55" fill="none"/>
<path d="M565.7,318.0L564.3,323.1L561.6,321.3Z" fill="#111"/>
<text class="tl" transform="translate(317.0,175.0)" text-anchor="middle">(a)</text>
<text class="tl" transform="translate(648.6,171.7)" text-anchor="middle">(c)</text>
<text class="tl" transform="translate(313.4,382.6)" text-anchor="middle">(b)</text>
<text class="tl" transform="translate(650.2,381.5)" text-anchor="middle">(d)</text>
<text transform="translate(10.9,87.6) rotate(-90) scale(0.88,1)" style="font-size:14.5px">ω</text>
<text transform="translate(15.2,79.2) rotate(-90)" style="font-size:10.6px">r</text>
<text transform="translate(7,275.8) rotate(-90) scale(0.88,1)" style="font-size:14.5px">ω</text>
<text transform="translate(12.4,266.9) rotate(-90)" style="font-size:11px">i</text>
<text x="346.6" y="421.8" style="font-size:18.5px;font-weight:normal">μ</text>
</svg></body></html>
